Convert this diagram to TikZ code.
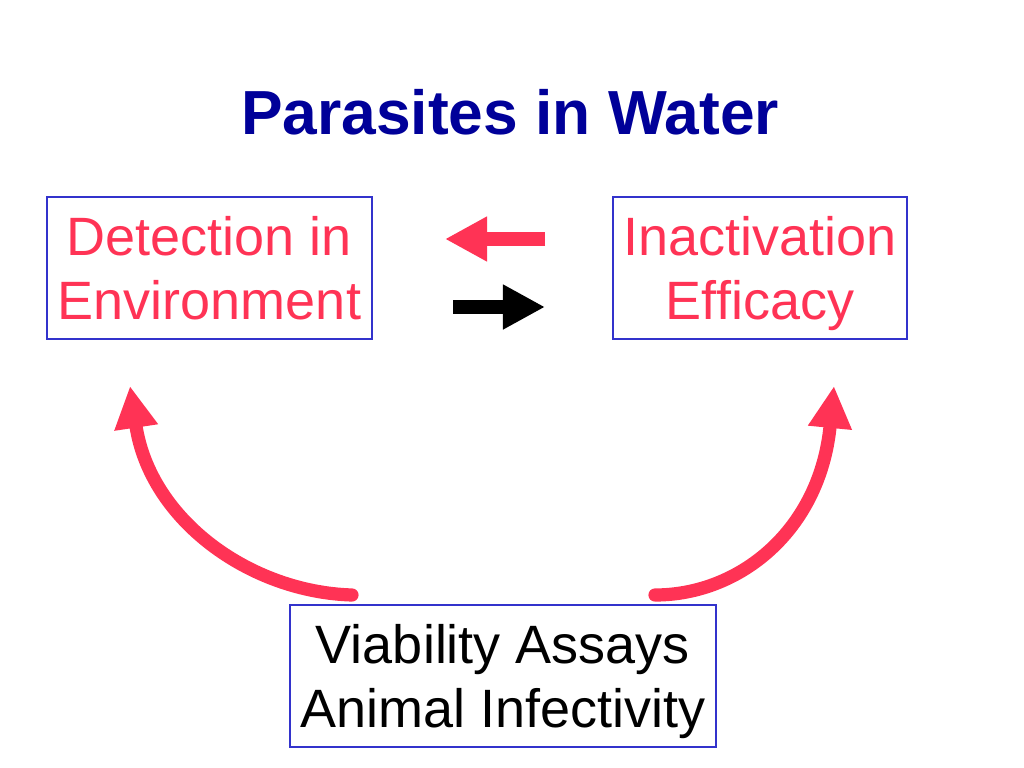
\documentclass[tikz,border=0pt]{standalone}
\usepackage{fontspec}
\setmainfont{Liberation Sans}
\usetikzlibrary{arrows.meta}
\definecolor{titleblue}{RGB}{0,0,153}
\definecolor{boxblue}{RGB}{51,51,204}
\definecolor{pinkred}{RGB}{255,51,85}
\newcommand{\boxfont}{\fontsize{38.4}{45}\selectfont}
\tikzset{
  box/.style={draw=boxblue, line width=1.2pt, align=center, inner sep=0pt, text depth=0pt, minimum height=3.55cm, font=\boxfont},
  loop arrow/.style={draw=pinkred, line width=0.33cm, line cap=round, -{Triangle[length=1.05cm,width=1.03cm]}},
  swap arrow/.style={line width=0.35cm, -{Triangle[length=1.05cm,width=1.05cm]}}
}

\begin{document}
\begin{tikzpicture}[x=0.025cm, y=-0.025cm]
				\useasboundingbox (0,0) rectangle (1024,768);
				\node[anchor=base, text=titleblue, font=\bfseries\fontsize{44.3}{52}\selectfont] (title) at (510,135) {Parasites in Water};
				\node[box, text=pinkred, minimum width=8.125cm] (detect) at (209.5,268) {Detection in\\Environment};
				\node[box, text=pinkred, minimum width=7.35cm] (inact) at (760,268) {Inactivation\\Efficacy};
				\node[box, minimum width=10.65cm] (assay) at (503,676) {Viability Assays\\Animal Infectivity};
				\coordinate (back start) at (545,239);
				\coordinate (back end) at (445,239);
				\coordinate (fwd start) at (453,307);
				\coordinate (fwd end) at (545,307);
				\coordinate (left start) at (352,595);
				\coordinate (left end) at (130,386);
				\coordinate (right start) at (655,595);
				\coordinate (right end) at (834,386);
				\draw[swap arrow, draw=pinkred, fill=pinkred] (back start) -- (back end);
				\draw[swap arrow, draw=black] (fwd start) -- (fwd end);
				\draw[loop arrow] (left start) .. controls (250,592) and (150,520) .. (left end);
				\draw[loop arrow] (right start) .. controls (740,595) and (820,530) .. (right end);
			\end{tikzpicture}
\end{document}
